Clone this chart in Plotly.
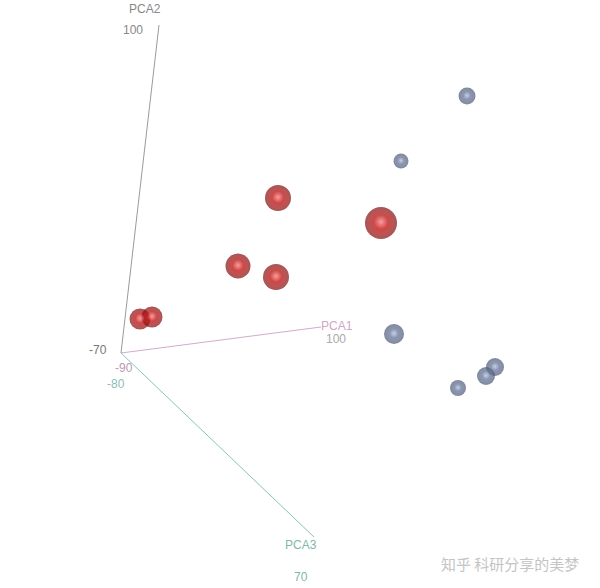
import plotly.graph_objects as go

# projected coordinates of the samples (screen plane, y up)
grp1_x = [278, 381, 238, 276, 140, 152]
grp1_y = [390, 365, 322, 311, 269, 271]
grp1_size = [26, 32, 25, 26, 21, 21]

grp2_x = [467, 401, 394, 495, 486, 458]
grp2_y = [492, 427, 254, 221, 212, 200]
grp2_size = [17, 15, 20, 18, 18, 16]

W, H = 600, 588
origin = (121, 235)
axis_ends = {"PCA1": (321, 261), "PCA2": (159, 563), "PCA3": (314, 51)}
axis_colors = {"PCA1": "#d2abc8", "PCA2": "#9a9a9a", "PCA3": "#86c4b6"}

fig = go.Figure()


def spheres(xs, ys, sizes, edge, center, center_clear, light, light_clear):
    # body of the sphere (radial gradient: marker color = rim, gradient color = centre)
    fig.add_trace(go.Scatter(
        x=xs, y=ys, mode="markers", hoverinfo="skip",
        marker=dict(size=sizes, color=edge, line=dict(width=0),
                    gradient=dict(type="radial", color=center))))
    # inner body, keeps the colour saturated
    fig.add_trace(go.Scatter(
        x=xs, y=ys, mode="markers", hoverinfo="skip",
        marker=dict(size=[s * 0.8 for s in sizes], color=center_clear,
                    line=dict(width=0),
                    gradient=dict(type="radial", color=center))))
    # specular highlight
    fig.add_trace(go.Scatter(
        x=xs, y=[y + s * 0.03 for y, s in zip(ys, sizes)],
        mode="markers", hoverinfo="skip",
        marker=dict(size=[s * 0.45 for s in sizes], color=light_clear,
                    line=dict(width=0),
                    gradient=dict(type="radial", color=light))))


# axis lines
for name, end in axis_ends.items():
    fig.add_shape(type="line", x0=origin[0], y0=origin[1], x1=end[0], y1=end[1],
                  line=dict(color=axis_colors[name], width=1))

spheres(grp1_x, grp1_y, grp1_size, "#820a0a", "#d81e1e", "rgba(216,30,30,0)",
        "rgba(255,215,215,0.95)", "rgba(255,215,215,0)")
spheres(grp2_x, grp2_y, grp2_size, "#485470", "#7888ac", "rgba(120,136,172,0)",
        "rgba(230,238,252,0.95)", "rgba(230,238,252,0)")

font = "Liberation Sans, Arial, sans-serif"
labels = [
    ("PCA2", 145, 579, "#888888"), ("100", 133, 558, "#888888"),
    ("-70", 98, 238, "#777777"),
    ("-90", 124, 220, "#b99ab2"), ("-80", 116, 204, "#8dbdb2"),
    ("PCA1", 337, 262, "#cfa6c5"), ("100", 336, 249, "#a9a9a9"),
    ("PCA3", 301, 43, "#7fb8ab"), ("70", 301, 11, "#7fb8ab"),
]
for txt, x, y, c in labels:
    fig.add_annotation(x=x, y=y, text=txt, showarrow=False,
                       font=dict(family=font, size=12, color=c))

fig.add_annotation(x=510, y=25, text="知乎 科研分享的美梦", showarrow=False,
                   font=dict(family="Noto Sans CJK SC", size=15, color="#c4c4c4"))

fig.update_layout(
    width=W, height=H, margin=dict(l=0, r=0, t=0, b=0),
    paper_bgcolor="white", plot_bgcolor="white", showlegend=False,
    xaxis=dict(range=[0, W], visible=False, fixedrange=True),
    yaxis=dict(range=[0, H], visible=False, fixedrange=True),
)

# drop the default page margin so the figure sits at the window corner
fig.write_html("out.html", config={"displayModeBar": False},
               post_script="document.body.style.margin='0';")
